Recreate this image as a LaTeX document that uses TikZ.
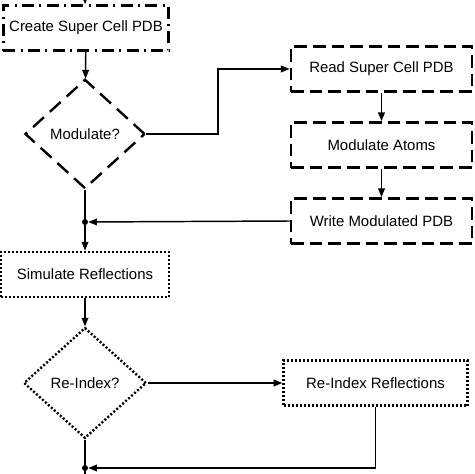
\documentclass[tikz,border=0pt]{standalone}
\usepackage{fontspec}
\setmainfont{Liberation Sans}
\usepackage{tikz}
\usetikzlibrary{shapes.geometric,arrows.meta}
\tikzset{
  dashdotbox/.style={draw,line width=1.8pt,dash pattern=on 9pt off 4pt on 1.5pt off 4pt},
  dashbox/.style={draw,line width=1.8pt,dash pattern=on 9.5pt off 4.5pt},
  dashdiam/.style={draw,diamond,aspect=1.1,inner sep=0pt,line width=1.8pt,dash pattern=on 11pt off 6pt},
  dotbox/.style={draw,line width=1.8pt,dash pattern=on 1.5pt off 1.5pt},
  dotdiam/.style={draw,diamond,aspect=1.1,inner sep=0pt,line width=1.8pt,dash pattern=on 1.5pt off 1.5pt},
  conn/.style={line width=1.1pt},
  arr/.style={conn,-{Triangle[length=6.5pt,width=5pt]}},
  joint/.style={circle,fill,inner sep=0pt,minimum size=4.5pt}
}
\usepackage{xcolor}
\begin{document}
\begin{tikzpicture}[x=0.75pt,y=-0.75pt,font=\fontsize{11.2}{13}\selectfont]

\useasboundingbox (0,0) rectangle (474,474);

\node[dashdotbox,minimum width=124pt,minimum height=34pt] (create) at (86,28) {Create Super Cell PDB};

\node[dashdiam,minimum width=90pt,minimum height=82pt] (modulate) at (85,134) {Modulate?};

\node[dashbox,minimum width=136pt,minimum height=34pt] (read) at (381.5,69) {Read Super Cell PDB};

\node[dashbox,minimum width=136pt,minimum height=34pt] (atoms) at (381.5,145) {Modulate Atoms};

\node[dashbox,minimum width=136pt,minimum height=34pt] (write) at (381.5,221) {Write Modulated PDB};

\node[dotbox,minimum width=126pt,minimum height=34pt] (simulate) at (85,274.5) {Simulate Reflections};

\node[dotdiam,minimum width=92pt,minimum height=83pt] (reindex) at (85,383) {Re-Index?};

\node[dotbox,minimum width=138pt,minimum height=34pt] (reflect) at (375.5,383) {Re-Index Reflections};

\coordinate (top) at (85,0);
\coordinate (bend) at (218,134);
\coordinate (bottom) at (85,474);

\node[joint] (j1) at (85,222) {};
\node[joint] (j2) at (85,468) {};

\draw[arr] (top) -- (create);
\draw[arr] (create) -- (modulate);
\draw[arr] (modulate.east) -- (bend) |- (read.west);
\draw[arr] (read) -- (atoms);
\draw[arr] (atoms) -- (write);
\draw[conn] (modulate.south) -- (j1.center);
\draw[arr] (write.west) -- (j1);
\draw[arr] (j1.center) -- (simulate);
\draw[arr] (simulate) -- (reindex);
\draw[arr] (reindex.east) -- (reflect.west);
\draw[arr] (reflect.south) |- (j2);
\draw[conn] (reindex.south) -- (bottom);

\end{tikzpicture}
\end{document}
